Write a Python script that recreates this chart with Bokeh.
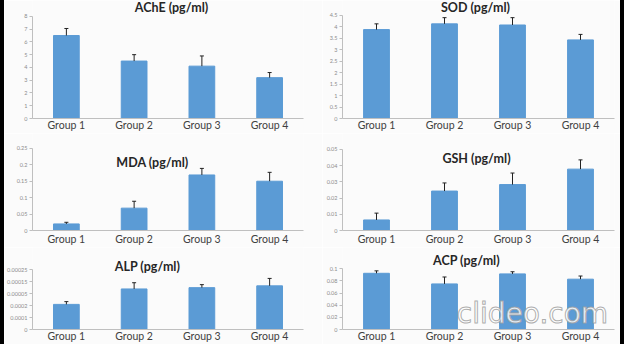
from bokeh.plotting import figure
from bokeh.models import FixedTicker, Label, Whisker, ColumnDataSource, TeeHead, Range1d, Div
from bokeh.layouts import row, column
from bokeh.embed import file_html
from bokeh.resources import INLINE

# ---------------- data ----------------
groups = ["Group 1", "Group 2", "Group 3", "Group 4"]

ache_mean = [6.5, 4.5, 4.1, 3.2]
ache_upper = [7.05, 5.0, 4.9, 3.6]
ache_ticks = [0, 1, 2, 3, 4, 5, 6, 7, 8]
ache_labels = ["0", "1", "2", "3", "4", "5", "6", "7", "8"]

sod_mean = [3.88, 4.13, 4.08, 3.43]
sod_upper = [4.13, 4.4, 4.4, 3.67]
sod_ticks = [0, 0.5, 1, 1.5, 2, 2.5, 3, 3.5, 4, 4.5]
sod_labels = ["0", "0.5", "1", "1.5", "2", "2.5", "3", "3.5", "4", "4.5"]

mda_mean = [0.020, 0.068, 0.169, 0.150]
mda_upper = [0.025, 0.089, 0.189, 0.177]
mda_ticks = [0, 0.05, 0.1, 0.15, 0.2, 0.25]
mda_labels = ["0", "0.05", "0.1", "0.15", "0.2", "0.25"]

gsh_mean = [0.0065, 0.0243, 0.0283, 0.0378]
gsh_upper = [0.0107, 0.0293, 0.0354, 0.0435]
gsh_ticks = [0, 0.01, 0.02, 0.03, 0.04, 0.05]
gsh_labels = ["0", "0.01", "0.02", "0.03", "0.04", "0.05"]

alp_mean = [0.00021, 0.000339, 0.00035, 0.000365]
alp_upper = [0.000233, 0.000391, 0.000375, 0.000427]
alp_ticks = [0, 0.0001, 0.0002, 0.0003, 0.0004, 0.0005]
alp_labels = ["0", "0.0001", "0.0002", "0.00005", "0.00015", "0.00025"]

acp_mean = [0.0925, 0.075, 0.0915, 0.0828]
acp_upper = [0.0965, 0.0864, 0.095, 0.088]
acp_ticks = [0, 0.02, 0.04, 0.06, 0.08, 0.1]
acp_labels = ["0", "0.02", "0.04", "0.06", "0.08", "0.1"]

# ---------------- style ----------------
BG = "#fbfbfb"
BAR = "#5b9bd5"
AXIS = "#bfbfbf"
FONT = "Lato"


def panel(title, means, uppers, ticks, labels, width, height, bl, br, bb,
          top_tick_px, title_x, title_y, standoff):
    """All *_px / title values are pixel offsets inside the figure canvas (from its top-left)."""
    frame_bottom = height - bb
    # extend the range upward so the frame fills the canvas top; axis line is bounded
    y_end = ticks[-1] * frame_bottom / (frame_bottom - top_tick_px)
    p = figure(x_range=groups, y_range=Range1d(ticks[0], y_end),
               width=width, height=height, output_backend="svg", toolbar_location=None,
               min_border_left=bl, min_border_right=br, min_border_top=0, min_border_bottom=bb,
               background_fill_color=BG, border_fill_color=BG, outline_line_color=None)
    src = ColumnDataSource(dict(x=groups, top=means, upper=uppers))
    p.vbar(x="x", top="top", width=0.38, source=src, fill_color=BAR, line_color=BAR)
    w = Whisker(base="x", lower="top", upper="upper", source=src, dimension="height",
                lower_head=None, upper_head=TeeHead(size=4, line_color="#222222", line_width=1),
                line_color="#222222", line_width=1, level="annotation")
    p.add_layout(w)
    p.xgrid.visible = False
    p.ygrid.visible = False
    p.xaxis.major_tick_line_color = None
    p.xaxis.major_tick_out = 0
    p.xaxis.major_tick_in = 0
    p.xaxis.minor_tick_line_color = None
    p.xaxis.axis_line_color = AXIS
    p.xaxis.major_label_text_font = FONT
    p.xaxis.major_label_text_font_size = "10.5px"
    p.xaxis.major_label_text_color = "#404040"
    p.xaxis.major_label_standoff = standoff
    p.yaxis.ticker = FixedTicker(ticks=ticks)
    p.yaxis.bounds = (ticks[0], ticks[-1])
    p.yaxis.major_label_overrides = {t: l for t, l in zip(ticks, labels)}
    p.yaxis.major_label_text_font = FONT
    p.yaxis.major_label_text_font_size = "5.5px"
    p.yaxis.major_label_text_color = "#8c8c8c"
    p.yaxis.major_label_standoff = 2
    p.yaxis.major_tick_out = 3
    p.yaxis.major_tick_in = 0
    p.yaxis.major_tick_line_color = AXIS
    p.yaxis.minor_tick_line_color = None
    p.yaxis.axis_line_color = AXIS
    p.add_layout(Label(x=title_x - bl, y=frame_bottom - title_y, x_units="screen", y_units="screen",
                       text=title, text_align="center", text_baseline="middle",
                       text_font=FONT, text_font_style="bold", text_font_size="12.5px",
                       text_color="#262626"))
    return p

# Page layout (page px): left column x 12..330, right column x 330..628
# row1 y 8..141, row2 y 141..255, row3 y 255..352
# canvas-relative values below = page value - canvas origin
f_ache = panel("AChE (pg/ml)", ache_mean, ache_upper, ache_ticks, ache_labels,
               318, 133, 14, 19, 14, 24 - 8, 165 - 12, 16 - 8, 0)
f_sod = panel("SOD (pg/ml)", sod_mean, sod_upper, sod_ticks, sod_labels,
              298, 133, 18, 6, 14, 23 - 8, 481 - 330, 16 - 8, 0)
f_mda = panel("MDA (pg/ml)", mda_mean, mda_upper, mda_ticks, mda_labels,
              318, 114, 23, 18, 16, 156 - 141, 155 - 12, 171 - 141, 2)
f_gsh = panel("GSH (pg/ml)", gsh_mean, gsh_upper, gsh_ticks, gsh_labels,
              298, 114, 18, 1, 16, 157 - 141, 482 - 330, 167 - 141, 2)
f_alp = panel("ALP (pg/ml)", alp_mean, alp_upper, alp_ticks, alp_labels,
              318, 97, 26, 19, 12, 278 - 255, 153 - 12, 277 - 255, 0)
f_acp = panel("ACP (pg/ml)", acp_mean, acp_upper, acp_ticks, acp_labels,
              298, 97, 20, 2, 12, 277 - 255, 474 - 330, 271 - 255, 0)

f_acp.add_layout(Label(x=540 - 350, y=340 - 324, x_units="screen", y_units="screen",
                       text="clideo.com", text_align="center", text_baseline="middle",
                       text_font="DejaVu Sans", text_font_size="28px",
                       text_color="white", text_alpha=0.85,
                       text_outline_color="#a0a0a0"))

left_bar = Div(text="", width=4, height=344, margin=0, styles={"background-color": "black"})
right_bar = Div(text="", width=4, height=344, margin=0, styles={"background-color": "black"})

p = row(left_bar, column(f_ache, f_mda, f_alp), column(f_sod, f_gsh, f_acp), right_bar)

open("out.html", "w").write(file_html(p, INLINE))
